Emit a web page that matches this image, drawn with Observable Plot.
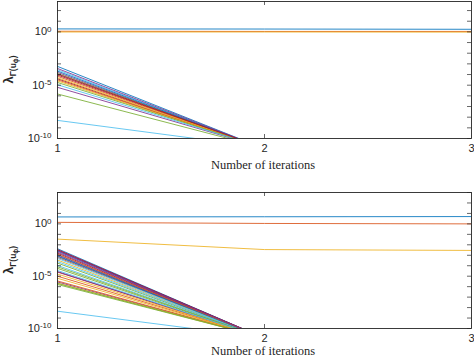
<!DOCTYPE html>
<html>
<head>
<meta charset="utf-8">
<script src="https://cdn.jsdelivr.net/npm/d3@7"></script>
<script src="https://cdn.jsdelivr.net/npm/@observablehq/plot@0.6"></script>
<style>
  html, body { margin: 0; padding: 0; background: #fff; }
  svg { display: block; }
</style>
</head>
<body>
<div id="chart"></div>
<script>
// ---- data ----
const iterations = [1, 2, 3];
const palette = ["#0072BD", "#D95319", "#EDB120", "#7E2F8E", "#77AC30", "#4DBEEE", "#A2142F"];
const xTicks = [1, 2, 3];
const yTickLabels = [1e-10, 1e-5, 1];

// top panel: three flat series (iterations 1..3)
const topFlatBlue = [1.9, 1.85, 1.75];
const topFlatOrange = [1.15, 1.1, 1.1];
const topFlatYellow = [0.98, 0.98, 0.95];
// top panel: decaying series, value at iteration 1 and 2
const topIter1 = [6.3e-6, 1.5e-6, 5.0e-9, 4.0e-5, 5.8e-4, 3.2e-5, 2.5e-5, 1.6e-4, 1.25e-4,
                  2.8e-4, 8.9e-5, 2.1e-4, 6.8e-5, 5.0e-5, 3.7e-4, 1.8e-5, 1.1e-5, 1.1e-4];
const topIter2 = [1.3e-11, 1.3e-11, 1.4e-11, 1.2e-11, 1.1e-11, 1.2e-11, 1.2e-11, 1.1e-11, 1.2e-11,
                  1.1e-11, 1.2e-11, 1.1e-11, 1.2e-11, 1.2e-11, 1.1e-11, 1.3e-11, 1.3e-11, 1.2e-11];

// bottom panel: three slowly varying series
const botFlatBlue = [4.6, 4.8, 5.0];
const botFlatOrange = [1.4, 1.1, 1.0];
const botFlatYellow = [0.035, 0.0035, 0.0029];
// bottom panel: decaying series
const botIter1 = [2.8e-6, 1.6e-6, 4.5e-9, 2.5e-5, 4.2e-3, 3.5e-6, 2.2e-6, 2.8e-5, 1.8e-4, 1.07e-4,
                  3.2e-3, 2.5e-3, 6.3e-4, 3.5e-4, 2.0e-3, 5.6e-5, 2.5e-4, 1.6e-3, 1.1e-3, 1.0e-5,
                  6.3e-6, 8.9e-4, 7.9e-5, 5.0e-4, 3.5e-3, 7.9e-4, 1.26e-3, 1.6e-5, 2.8e-3, 2.0e-6, 3.5e-5];
const botIter2 = [1.3e-11, 1.3e-11, 1.3e-11, 1.2e-11, 1.2e-11, 1.3e-11, 1.3e-11, 1.2e-11, 1.2e-11, 1.2e-11,
                  1.2e-11, 1.2e-11, 1.2e-11, 1.2e-11, 1.2e-11, 1.2e-11, 1.2e-11, 1.2e-11, 1.2e-11, 1.3e-11,
                  1.3e-11, 1.2e-11, 1.2e-11, 1.2e-11, 1.2e-11, 1.2e-11, 1.2e-11, 1.3e-11, 1.2e-11, 1.3e-11, 1.2e-11];

// ---- build tables ----
function buildRows(flats, iter1, iter2) {
  const rows = [];
  flats.forEach((vals, s) => vals.forEach((v, k) => rows.push({series: s, iter: iterations[k], value: v})));
  iter1.forEach((v, i) => {
    const s = flats.length + i;
    rows.push({series: s, iter: iterations[0], value: v});
    rows.push({series: s, iter: iterations[1], value: iter2[i]});
  });
  return rows;
}

const W = 474, H = 180, ML = 57, MR = 3;
const axisColor = "#262626";

function panel({rows, yTop, marginTop, marginBottom, xLabelOffset}) {
  const innerW = W - ML - MR;
  const innerH = H - marginTop - marginBottom;
  const minorTicks = d3.range(-10, Math.floor(Math.log10(yTop)) + 1).map(e => Math.pow(10, e));
  const plot = Plot.plot({
    width: W, height: H,
    marginLeft: ML, marginRight: MR, marginTop, marginBottom,
    style: {fontFamily: "'Liberation Sans', Arial, sans-serif", fontSize: "11px", color: axisColor, background: "#fff"},
    x: {domain: [1, 3]},
    y: {type: "log", domain: [1e-10, yTop]},
    color: {type: "identity"},
    marks: [
      Plot.line(rows, {x: "iter", y: "value", z: "series", stroke: d => palette[d.series % 7], strokeWidth: 0.85, clip: true}),
      Plot.tickY(minorTicks, {y: d => d, insetRight: innerW - 4, stroke: axisColor, strokeWidth: 0.7}),
      Plot.tickY(minorTicks, {y: d => d, insetLeft: innerW - 4, stroke: axisColor, strokeWidth: 0.7}),
      Plot.tickX([2], {x: d => d, insetTop: innerH - 4, stroke: axisColor, strokeWidth: 0.7}),
      Plot.tickX([2], {x: d => d, insetBottom: innerH - 4, stroke: axisColor, strokeWidth: 0.7}),
      Plot.frame({stroke: axisColor, strokeWidth: 0.9}),
      Plot.axisY({ticks: yTickLabels, tickSize: 0, tickPadding: 6, label: null,
                  tickFormat: d => String(Math.round(Math.log10(d)))}),
      Plot.axisX({ticks: xTicks, tickSize: 0, tickPadding: 6, label: null, tickFormat: d => String(d)})
    ]
  });
  const svg = d3.select(plot);
  // superscript exponents on y tick labels
  svg.selectAll('g[aria-label="y-axis tick label"] text').each(function() {
    const exp = this.textContent;
    const t = d3.select(this);
    t.text("10");
    t.append("tspan").attr("dy", "-0.45em").attr("font-size", "8px").text(exp);
  });
  // x label
  svg.append("text")
    .attr("x", ML + innerW / 2 - 1)
    .attr("y", marginTop + innerH + xLabelOffset)
    .attr("text-anchor", "middle")
    .attr("dominant-baseline", "middle")
    .attr("font-family", "'Liberation Serif', 'Times New Roman', serif")
    .attr("font-size", "12.5px")
    .attr("fill", axisColor)
    .text("Number of iterations");
  // y label
  const cy = marginTop + innerH / 2;
  const yl = svg.append("text")
    .attr("transform", `translate(13,${cy}) rotate(-90)`)
    .attr("text-anchor", "middle")
    .attr("font-family", "'Liberation Sans', Arial, sans-serif")
    .attr("fill", axisColor);
  yl.append("tspan").attr("font-size", "13px").attr("font-weight", "bold").text("λ");
  yl.append("tspan").attr("font-size", "8.5px").attr("font-weight", "bold").attr("dy", 3).text("Γ(u");
  yl.append("tspan").attr("font-size", "6.5px").attr("font-weight", "bold").attr("dy", 2).text("ϕ");
  yl.append("tspan").attr("font-size", "8.5px").attr("font-weight", "bold").attr("dy", -2).text(")");
  return plot;
}

const topRows = buildRows([topFlatBlue, topFlatOrange, topFlatYellow], topIter1, topIter2);
const botRows = buildRows([botFlatBlue, botFlatOrange, botFlatYellow], botIter1, botIter2);

const chart = document.getElementById("chart");
chart.appendChild(panel({rows: topRows, yTop: Math.pow(10, 2.85), marginTop: 1, marginBottom: 42, xLabelOffset: 28}));
chart.appendChild(panel({rows: botRows, yTop: 1e3, marginTop: 12, marginBottom: 32, xLabelOffset: 24}));
</script>
</body>
</html>
